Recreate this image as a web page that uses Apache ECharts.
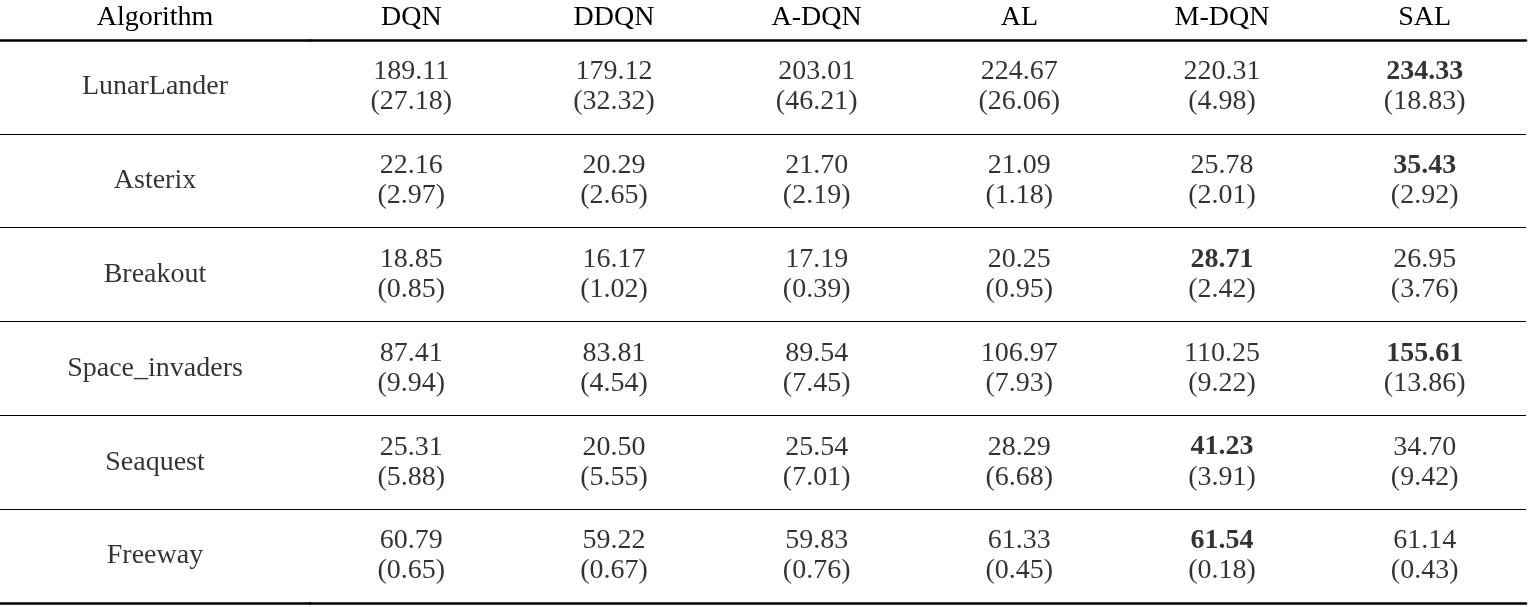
<!DOCTYPE html>
<html><head><meta charset="utf-8">
<script src="https://cdn.jsdelivr.net/npm/echarts@6/dist/echarts.min.js"></script>
<style>html,body{margin:0;padding:0;background:#fff}#c{width:1536px;height:607px}</style>
</head><body><div id="c"></div>
<script>
const algorithms = ['DQN','DDQN','A-DQN','AL','M-DQN','SAL'];
const environments = ['LunarLander','Asterix','Breakout','Space_invaders','Seaquest','Freeway'];
const lunarMean = [189.11,179.12,203.01,224.67,220.31,234.33];
const lunarStd  = [27.18,32.32,46.21,26.06,4.98,18.83];
const asterixMean = [22.16,20.29,21.70,21.09,25.78,35.43];
const asterixStd  = [2.97,2.65,2.19,1.18,2.01,2.92];
const breakoutMean = [18.85,16.17,17.19,20.25,28.71,26.95];
const breakoutStd  = [0.85,1.02,0.39,0.95,2.42,3.76];
const spaceMean = [87.41,83.81,89.54,106.97,110.25,155.61];
const spaceStd  = [9.94,4.54,7.45,7.93,9.22,13.86];
const seaquestMean = [25.31,20.50,25.54,28.29,41.23,34.70];
const seaquestStd  = [5.88,5.55,7.01,6.68,3.91,9.42];
const freewayMean = [60.79,59.22,59.83,61.33,61.54,61.14];
const freewayStd  = [0.65,0.67,0.76,0.45,0.18,0.43];

const means = [lunarMean, asterixMean, breakoutMean, spaceMean, seaquestMean, freewayMean];
const stds = [lunarStd, asterixStd, breakoutStd, spaceStd, seaquestStd, freewayStd];

const FONT = '"Liberation Serif","DejaVu Serif",serif';
const cells = [];
means.forEach((row, r) => {
  const best = Math.max(...row);
  row.forEach((v, c) => cells.push([c, r, v.toFixed(2), '(' + stds[r][c].toFixed(2) + ')', v === best]));
});
const envCells = environments.map((e, r) => [0, r, e]);

const gridTop = 40, gridBottom = 4;
const lineCol = '#000';
function xAxes(grid, data) {
  return [
    {type:'category', gridIndex:grid, position:'top', data:data,
     axisLine:{show:true, lineStyle:{color:lineCol, width:2.5}}, axisTick:{show:false},
     axisLabel:{fontFamily:FONT, fontSize:28, color:'#000', margin:8}},
    {type:'category', gridIndex:grid, position:'bottom', data:data,
     axisLine:{show:true, lineStyle:{color:lineCol, width:2.5}}, axisTick:{show:false}, axisLabel:{show:false}}
  ];
}
function yAxis(grid) {
  return {type:'category', gridIndex:grid, inverse:true, data:environments,
    axisLine:{show:false}, axisTick:{show:false}, axisLabel:{show:false},
    splitLine:{show:true, lineStyle:{color:lineCol, width:1.2}}};
}
const chart = echarts.init(document.getElementById('c'));
chart.setOption({
  animation:false,
  grid:[{left:0, width:310, top:gridTop, bottom:gridBottom},
        {left:310, right:10, top:gridTop, bottom:gridBottom}],
  xAxis:[...xAxes(0, ['Algorithm']), ...xAxes(1, algorithms)],
  yAxis:[yAxis(0), yAxis(1)],
  series:[
    {type:'scatter', xAxisIndex:0, yAxisIndex:0, symbolSize:1, itemStyle:{color:'rgba(0,0,0,0)'}, data:envCells,
     label:{show:true, position:'inside', fontFamily:FONT, fontSize:28, color:'#000',
       formatter:p => p.data[2]}},
    {type:'scatter', xAxisIndex:2, yAxisIndex:1, symbolSize:1, itemStyle:{color:'rgba(0,0,0,0)'}, data:cells,
     label:{show:true, position:'inside', fontFamily:FONT, fontSize:28, color:'#000', lineHeight:30,
       formatter:p => (p.data[4] ? '{b|' + p.data[2] + '}' : '{n|' + p.data[2] + '}') + '\n{n|' + p.data[3] + '}',
       rich:{n:{fontFamily:FONT, fontSize:28, color:'#000', lineHeight:30},
             b:{fontFamily:FONT, fontSize:28, fontWeight:'bold', color:'#000', lineHeight:30}}}}
  ]
});
</script></body></html>
